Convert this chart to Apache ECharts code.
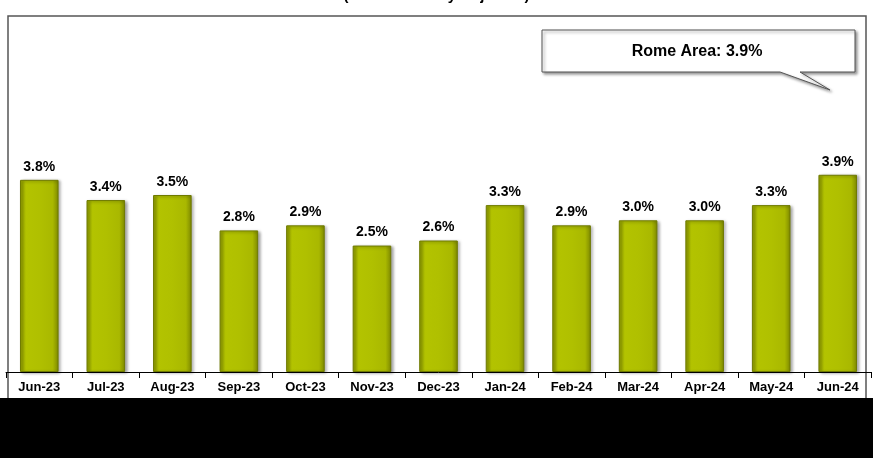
<!DOCTYPE html><html><head><meta charset="utf-8"><script src="https://cdn.jsdelivr.net/npm/echarts@6/dist/echarts.min.js"></script>
<style>html,body{margin:0;padding:0;background:#fff}#c{width:873px;height:458px}</style></head><body><div id="c"></div>
<script>
const categories=["Jun-23","Jul-23","Aug-23","Sep-23","Oct-23","Nov-23","Dec-23","Jan-24","Feb-24","Mar-24","Apr-24","May-24","Jun-24"];
const values=[3.8,3.4,3.5,2.8,2.9,2.5,2.6,3.3,2.9,3.0,3.0,3.3,3.9];
const calloutText="Rome Area: 3.9%";
const titleText="(Not Seasonally Adjusted)";
const c=echarts.init(document.getElementById('c'));
const F='"Liberation Sans",Arial,sans-serif';
c.setOption({
 animation:false,
 title:{text:titleText,left:'center',top:-17,textStyle:{fontFamily:F,fontSize:15,fontWeight:'bold',color:'#000'}},
 grid:{left:6,right:2,top:18,bottom:86},
 xAxis:{type:'category',data:categories,
  axisLine:{lineStyle:{color:'#000',width:1}},
  axisTick:{show:true,length:6,lineStyle:{color:'#000'}},
  axisLabel:{fontFamily:F,fontWeight:'bold',fontSize:13,color:'#000',margin:9}},
 yAxis:{type:'value',min:0,max:7,show:false,splitLine:{show:false}},
 series:[{type:'bar',data:values,barWidth:'58%',
  itemStyle:{borderColor:'#6f7a00',borderWidth:1,
   color:new echarts.graphic.LinearGradient(0,0,1,0,[{offset:0,color:'#8c9900'},{offset:0.15,color:'#b3c300'},{offset:0.5,color:'#b0c000'},{offset:0.85,color:'#a9b800'},{offset:1,color:'#7d8800'}]),
   shadowColor:'rgba(0,0,0,0.35)',shadowBlur:3,shadowOffsetX:2,shadowOffsetY:1},
  label:{show:true,position:'top',distance:6,formatter:p=>p.value.toFixed(1)+'%',fontFamily:F,fontWeight:'bold',fontSize:14,color:'#000'}}],
 graphic:[
  {type:'rect',shape:{x:8,y:16,width:858,height:400},style:{fill:'none',stroke:'#555',lineWidth:1.5},z:-1},
  {type:'polygon',shape:{points:[[542,30],[855,30],[855,72],[800,72],[830,90],[780,72],[542,72]]},
   style:{fill:'#fff',stroke:'#555',lineWidth:1,shadowColor:'rgba(0,0,0,0.4)',shadowBlur:3,shadowOffsetX:2,shadowOffsetY:2},z:10},
  {type:'text',x:697,y:52,style:{text:calloutText,fontFamily:F,fontWeight:'bold',fontSize:16,fill:'#000',align:'center',verticalAlign:'middle'},z:11},
  {type:'rect',shape:{x:0,y:398,width:873,height:60},style:{fill:'#000'},z:20}
 ]
});
</script></body></html>
